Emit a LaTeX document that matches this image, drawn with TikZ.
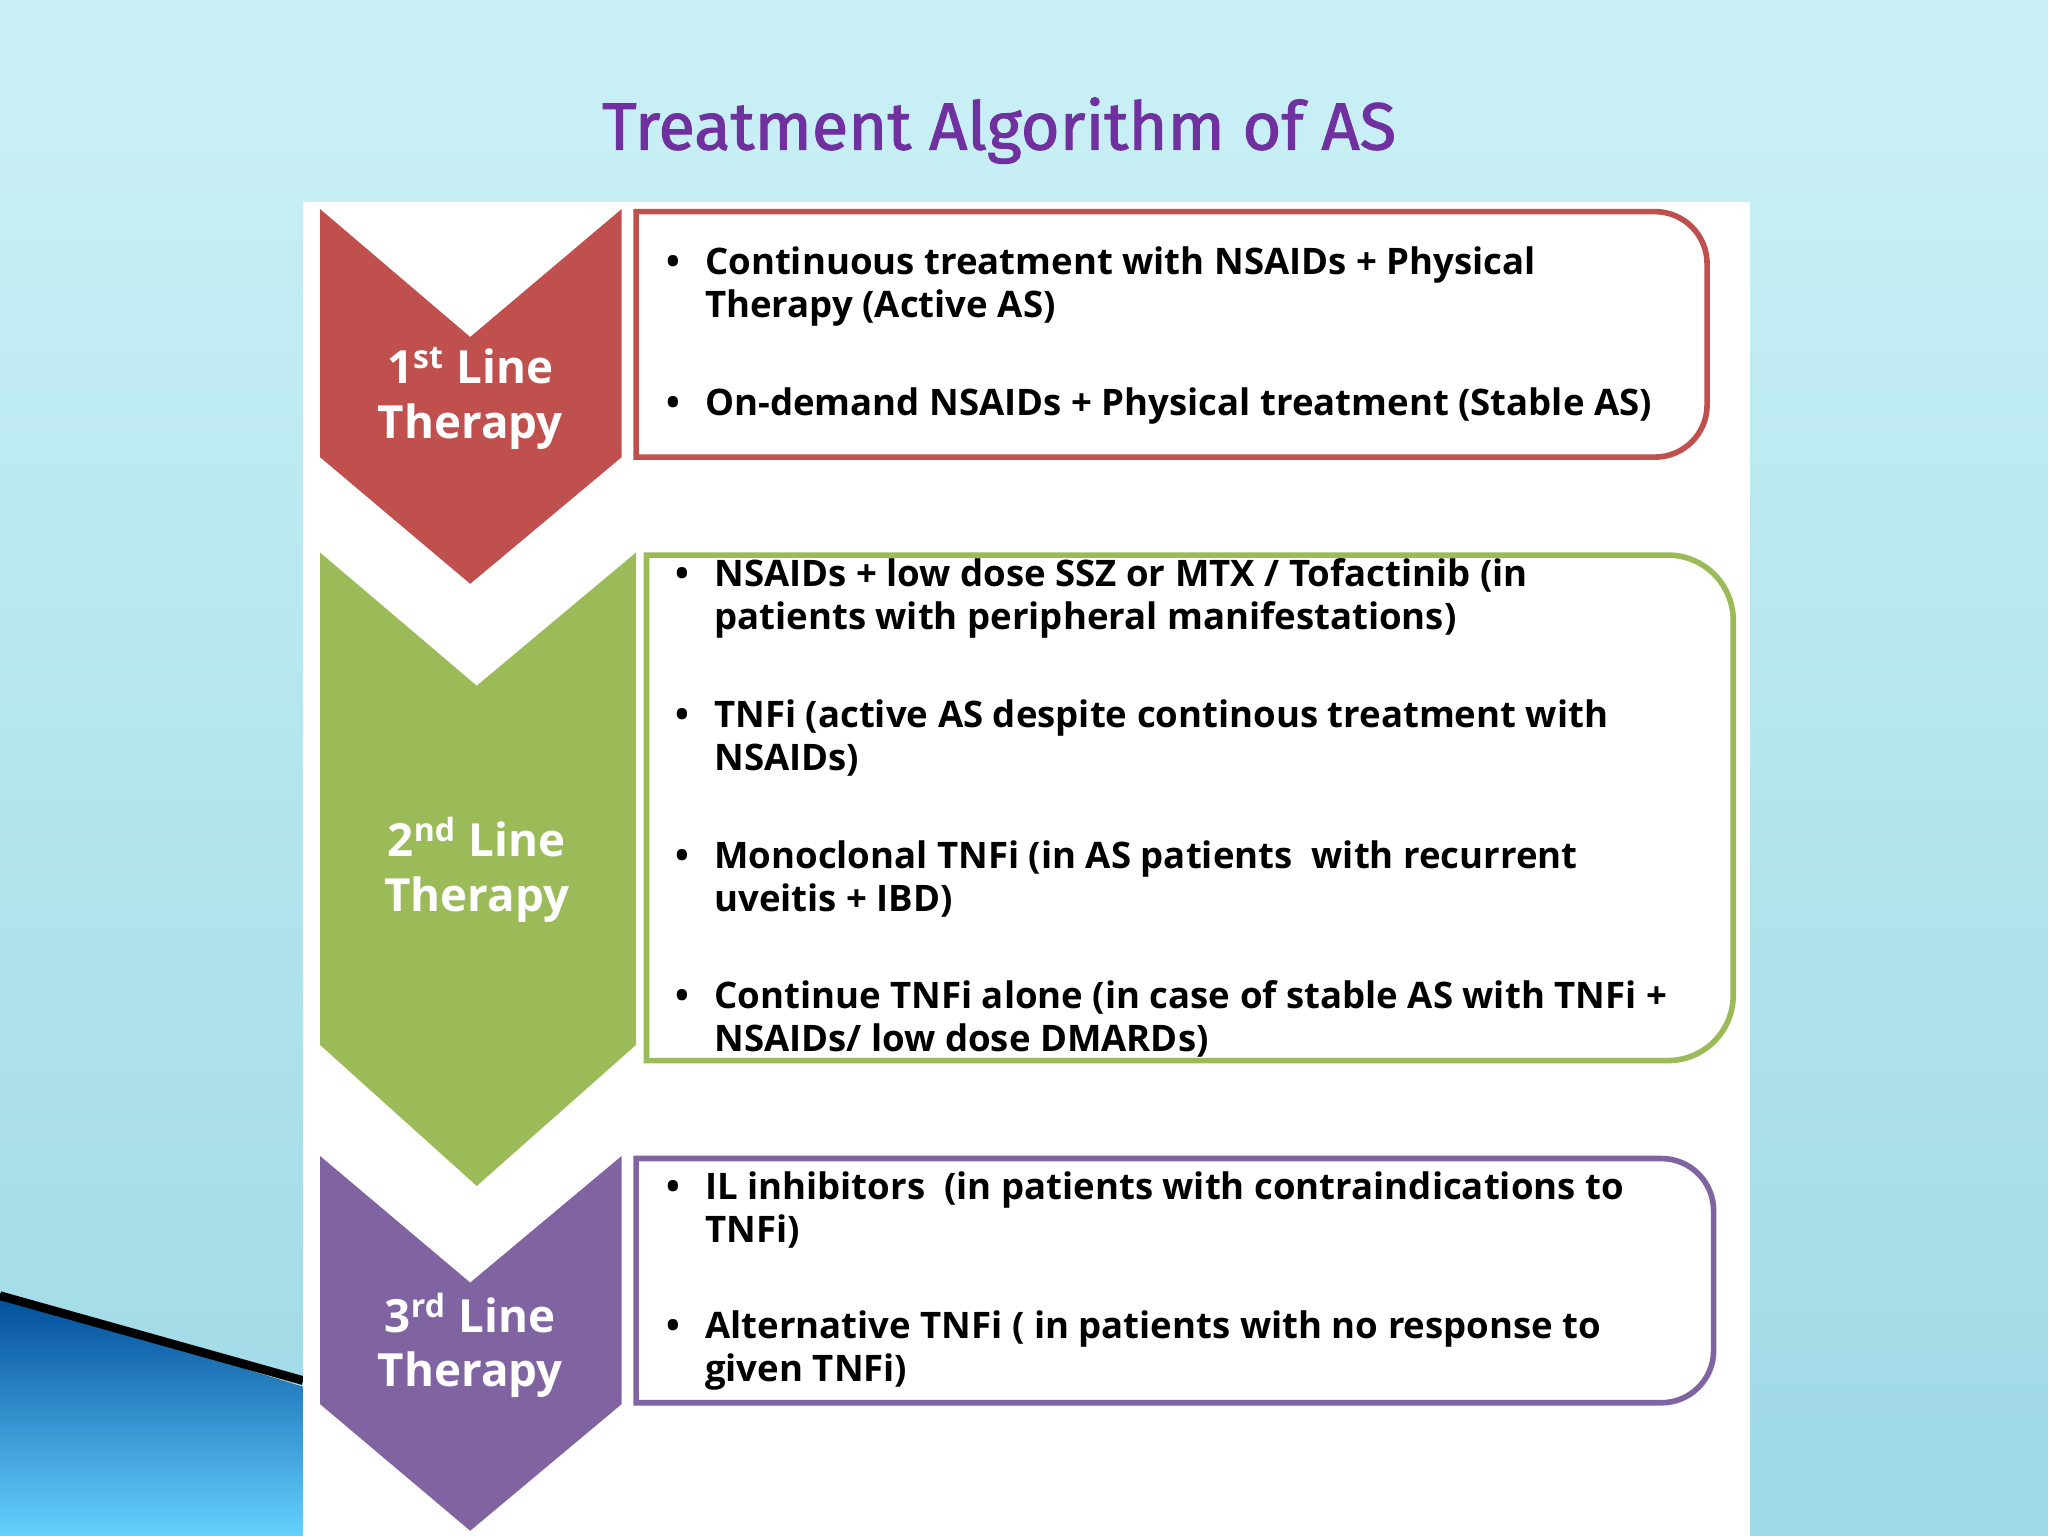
\documentclass[tikz,border=0pt]{standalone}
\usepackage{fontspec}
\setmainfont{Open Sans}
\newfontfamily\titlefont{Fira Sans}[FakeBold=1.5]
\begin{document}
\begin{tikzpicture}[x=0.013061cm,y=-0.013061cm,
  lbl/.style={text=white,font=\bfseries\fontsize{13}{15.5}\selectfont,align=center},
  item/.style={anchor=base west,align=left,inner sep=0pt,font=\bfseries\fontsize{10.4}{12.2}\selectfont},
  box/.style={line width=1.6pt,fill=white}]
\definecolor{cr}{HTML}{C0504D}\definecolor{cg}{HTML}{9BBB59}\definecolor{cp}{HTML}{8064A2}
\definecolor{ttl}{HTML}{7030A0}
\definecolor{bgt}{HTML}{CBF1F6}\definecolor{bgb}{HTML}{9ED9E6}
\useasboundingbox (0,0) rectangle (1568,1176);
\shade[top color=bgt, bottom color=bgb] (0,0) rectangle (1568,1176);
\fill[top color=blue!50!cyan!60!black,bottom color=cyan!70!blue!60!white] (0,990) -- (232,1062) -- (232,1176) -- (0,1176) -- cycle;
\draw[line width=2.5pt,black] (0,992) -- (232,1057);
\node[font=\titlefont\fontsize{19}{22}\selectfont,text=ttl] (title) at (765,100) {Treatment Algorithm of AS};
\fill[white] (232,155) rectangle (1340,1176);
% chevrons
\fill[cr] (245,160) -- (360,258) -- (476,160) -- (476,350) -- (360,447) -- (245,350) -- cycle;
\fill[cg] (245,423) -- (365,525) -- (487,423) -- (487,800) -- (365,908) -- (245,800) -- cycle;
\fill[cp] (245,885) -- (360,982) -- (476,885) -- (476,1075) -- (360,1172) -- (245,1075) -- cycle;
\node[lbl] (l1) at (360,305) {1\textsuperscript{st} Line\\Therapy};
\node[lbl] (l2) at (365,666) {2\textsuperscript{nd} Line\\Therapy};
\node[lbl] (l3) at (360,1030) {3\textsuperscript{rd} Line\\Therapy};
% boxes
\draw[box,draw=cr] (487,162) -- (1267,162) arc[start angle=-90,end angle=0,radius=40] -- (1307,310) arc[start angle=0,end angle=90,radius=40] -- (487,350) -- cycle;
\draw[box,draw=cg] (495,425) -- (1277,425) arc[start angle=-90,end angle=0,radius=50] -- (1327,762) arc[start angle=0,end angle=90,radius=50] -- (495,812) -- cycle;
\draw[box,draw=cp] (487,887) -- (1272,887) arc[start angle=-90,end angle=0,radius=40] -- (1312,1034) arc[start angle=0,end angle=90,radius=40] -- (487,1074) -- cycle;
\def\hb{\phantom{\textbullet}\hspace{7pt}}
\node[item] (a1) at (510,243) {\textbullet\hspace{7pt}Continuous treatment with NSAIDs + Physical\\\hb Therapy (Active AS)};
\node[item] (a2) at (510,318) {\textbullet\hspace{7pt}On-demand NSAIDs + Physical treatment (Stable AS)};
\node[item] (b1) at (517,482) {\textbullet\hspace{7pt}NSAIDs + low dose SSZ or MTX / Tofactinib (in\\\hb patients with peripheral manifestations)};
\node[item] (b2) at (517,590) {\textbullet\hspace{7pt}TNFi (active AS despite continous treatment with\\\hb NSAIDs)};
\node[item] (b3) at (517,698) {\textbullet\hspace{7pt}Monoclonal TNFi (in AS patients\ \ with recurrent\\\hb uveitis + IBD)};
\node[item] (b4) at (517,805) {\textbullet\hspace{7pt}Continue TNFi alone (in case of stable AS with TNFi +\\\hb NSAIDs/ low dose DMARDs)};
\node[item] (c1) at (510,951) {\textbullet\hspace{7pt}IL inhibitors\ \ (in patients with contraindications to\\\hb TNFi)};
\node[item] (c2) at (510,1058) {\textbullet\hspace{7pt}Alternative TNFi ( in patients with no response to\\\hb given TNFi)};
\end{tikzpicture}
\end{document}
